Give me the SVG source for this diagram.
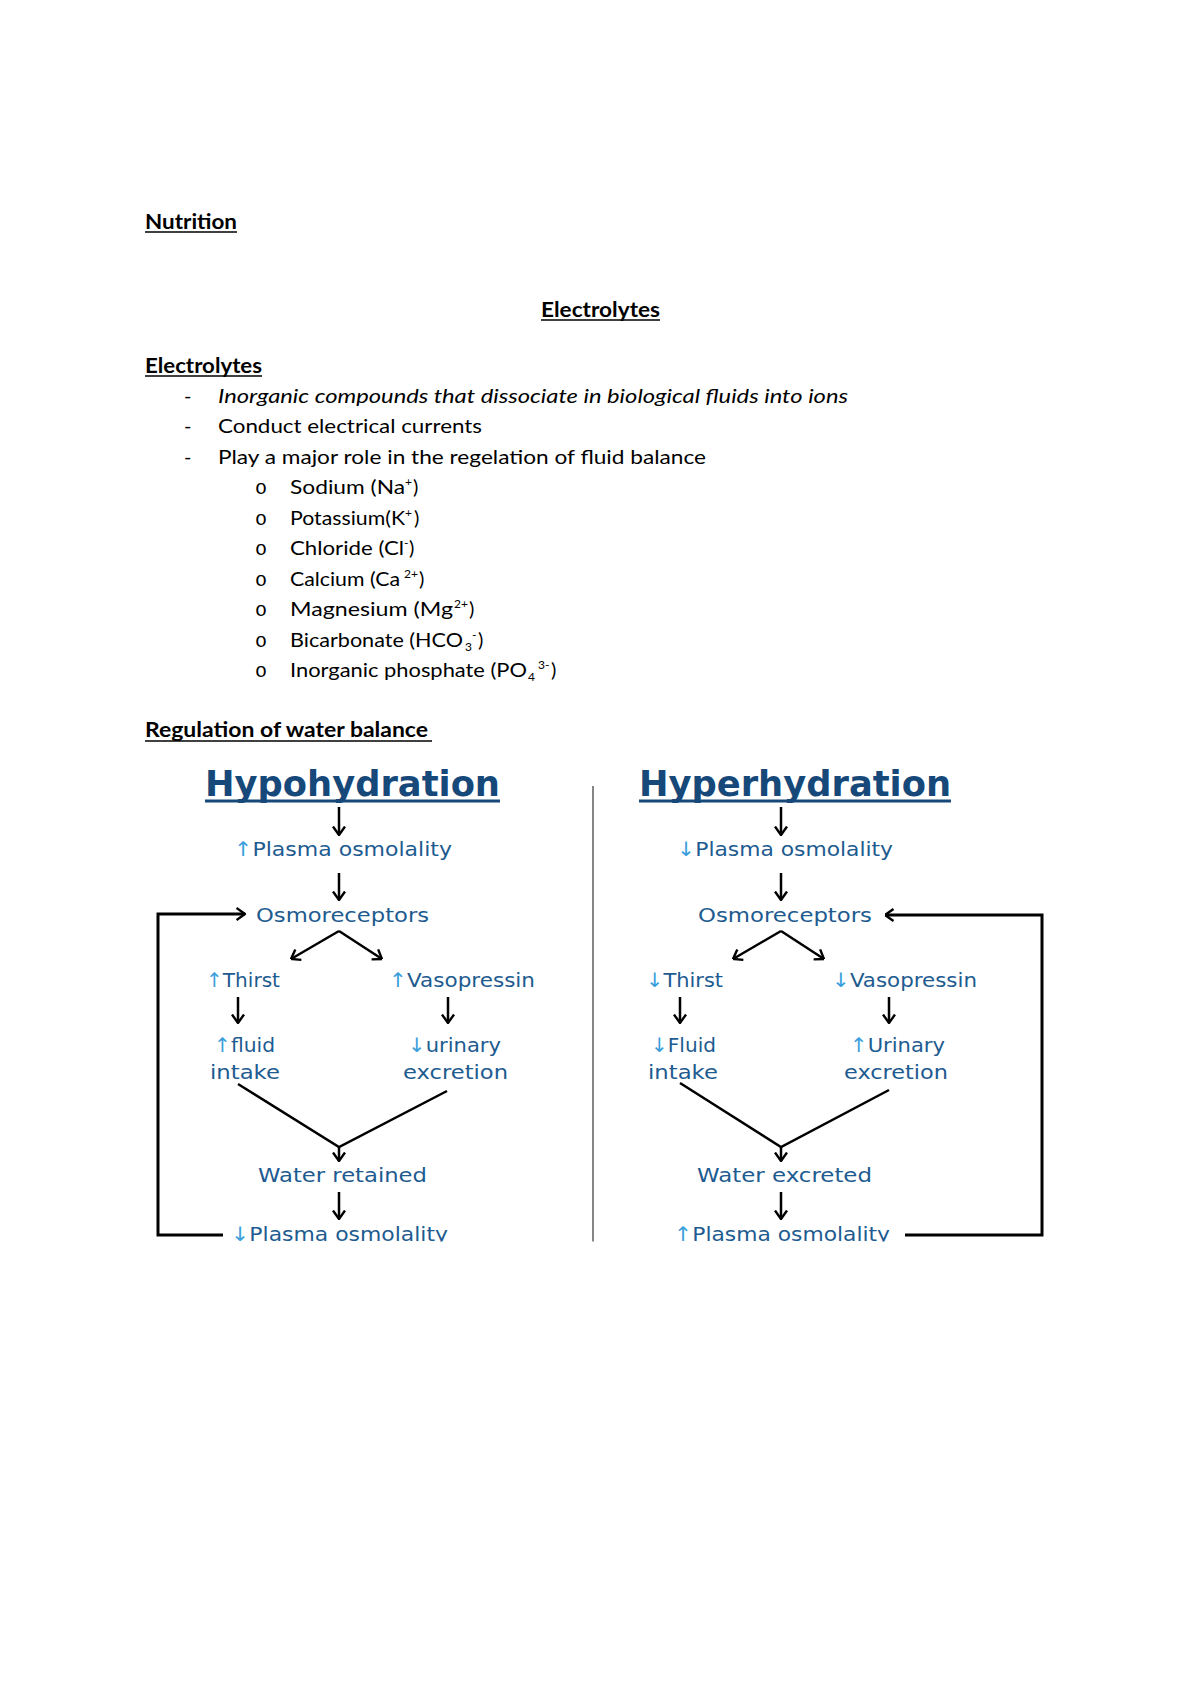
<svg xmlns="http://www.w3.org/2000/svg" width="1200" height="1698" viewBox="0 0 1200 1698">
<style>
.doc{font-family:Lato,'Liberation Sans',sans-serif;font-size:20px;fill:#000}
.b{font-weight:bold}
.i{font-style:italic}
.sup{font-family:Lato,'Liberation Sans',sans-serif;font-size:12px;fill:#000}
.bul{font-family:'Liberation Mono',monospace;font-size:20px;fill:#000}
.ul{stroke:#000;stroke-width:1.5}
.dg{font-family:'DejaVu Sans',Verdana,sans-serif;font-size:20px;fill:#1d5b90}
.hd{font-family:'DejaVu Sans',Verdana,sans-serif;font-weight:bold;font-size:36px;fill:#16497a}
.ar{fill:#3a9fdc}
.hul{stroke:#16497a;stroke-width:3}
.ln{stroke:#000;stroke-width:2.5;fill:none}
.lp{stroke:#000;stroke-width:3;fill:none}
.sep{stroke:#444;stroke-width:1.3}
</style>
<defs>
<marker id="v" viewBox="0 0 10 14" refX="9.5" refY="7" markerWidth="10" markerHeight="14" markerUnits="userSpaceOnUse" orient="auto">
<path d="M1,1 L9.5,7 L1,13" fill="none" stroke="#000" stroke-width="2.4"/>
</marker>
<clipPath id="clip"><rect x="0" y="0" width="1200" height="1241.5"/></clipPath>
</defs>
<rect width="1200" height="1698" fill="#fff"/>

<g id="document-text">
<text class="doc b" x="145" y="229" textLength="92" lengthAdjust="spacingAndGlyphs">Nutrition</text>
<line class="ul" x1="145" y1="232" x2="237" y2="232"/>
<text class="doc b" x="541" y="317" textLength="119" lengthAdjust="spacingAndGlyphs">Electrolytes</text>
<line class="ul" x1="541" y1="320" x2="660" y2="320"/>
<text class="doc b" x="145" y="373" textLength="117" lengthAdjust="spacingAndGlyphs">Electrolytes</text>
<line class="ul" x1="145" y1="376" x2="262" y2="376"/>
<text class="doc" x="184" y="403">-</text>
<text class="doc" x="184" y="433">-</text>
<text class="doc" x="184" y="464">-</text>
<text class="doc i" x="218" y="403" textLength="630" lengthAdjust="spacingAndGlyphs">Inorganic compounds that dissociate in biological fluids into ions</text>
<text class="doc" x="218" y="433" textLength="264" lengthAdjust="spacingAndGlyphs">Conduct electrical currents</text>
<text class="doc" x="218" y="464" textLength="488" lengthAdjust="spacingAndGlyphs">Play a major role in the regelation of fluid balance</text>

<g id="ions">
<text class="bul" x="255" y="494">o</text>
<text class="doc" x="290" y="494" textLength="115" lengthAdjust="spacingAndGlyphs">Sodium (Na</text>
<text class="sup" x="405" y="486">+</text>
<text class="doc" x="413" y="494">)</text>

<text class="bul" x="255" y="525">o</text>
<text class="doc" x="290" y="525" textLength="115" lengthAdjust="spacingAndGlyphs">Potassium(K</text>
<text class="sup" x="405" y="517">+</text>
<text class="doc" x="414" y="525">)</text>

<text class="bul" x="255" y="555">o</text>
<text class="doc" x="290" y="555" textLength="114" lengthAdjust="spacingAndGlyphs">Chloride (Cl</text>
<text class="sup" x="404" y="547">-</text>
<text class="doc" x="409" y="555">)</text>

<text class="bul" x="255" y="586">o</text>
<text class="doc" x="290" y="586" textLength="110" lengthAdjust="spacingAndGlyphs">Calcium (Ca</text>
<text class="sup" x="404" y="578">2+</text>
<text class="doc" x="419" y="586">)</text>

<text class="bul" x="255" y="616">o</text>
<text class="doc" x="290" y="616" textLength="163" lengthAdjust="spacingAndGlyphs">Magnesium (Mg</text>
<text class="sup" x="454" y="608">2+</text>
<text class="doc" x="469" y="616">)</text>

<text class="bul" x="255" y="647">o</text>
<text class="doc" x="290" y="647" textLength="173" lengthAdjust="spacingAndGlyphs">Bicarbonate (HCO</text>
<text class="sup" x="465" y="651">3</text>
<text class="sup" x="472" y="639">-</text>
<text class="doc" x="478" y="647">)</text>

<text class="bul" x="255" y="677">o</text>
<text class="doc" x="290" y="677" textLength="237" lengthAdjust="spacingAndGlyphs">Inorganic phosphate (PO</text>
<text class="sup" x="528" y="681">4</text>
<text class="sup" x="538" y="669">3-</text>
<text class="doc" x="551" y="677">)</text>
</g>

<text class="doc b" x="145" y="737" textLength="283" lengthAdjust="spacingAndGlyphs">Regulation of water balance</text>
<line class="ul" x1="145" y1="741" x2="432" y2="741"/>
</g>

<g id="diagram" clip-path="url(#clip)">
<line class="sep" x1="593" y1="786" x2="593" y2="1242"/>

<g id="connectors">
<line class="ln" x1="339" y1="807" x2="339" y2="835" marker-end="url(#v)"/>
<line class="ln" x1="339" y1="873" x2="339" y2="900" marker-end="url(#v)"/>
<line class="ln" x1="339" y1="931" x2="291" y2="959" marker-end="url(#v)"/>
<line class="ln" x1="339" y1="931" x2="382" y2="959" marker-end="url(#v)"/>
<line class="ln" x1="238" y1="997" x2="238" y2="1023" marker-end="url(#v)"/>
<line class="ln" x1="448" y1="997" x2="448" y2="1023" marker-end="url(#v)"/>
<polyline class="ln" points="238,1084 339,1147 447,1091"/>
<line class="ln" x1="339" y1="1147" x2="339" y2="1161" marker-end="url(#v)"/>
<line class="ln" x1="339" y1="1192" x2="339" y2="1219" marker-end="url(#v)"/>
<polyline class="lp" points="223,1235 158,1235 158,914 245,914" marker-end="url(#v)"/>
<line class="ln" x1="781" y1="807" x2="781" y2="835" marker-end="url(#v)"/>
<line class="ln" x1="781" y1="873" x2="781" y2="900" marker-end="url(#v)"/>
<line class="ln" x1="781" y1="931" x2="733" y2="959" marker-end="url(#v)"/>
<line class="ln" x1="781" y1="931" x2="824" y2="959" marker-end="url(#v)"/>
<line class="ln" x1="680" y1="997" x2="680" y2="1023" marker-end="url(#v)"/>
<line class="ln" x1="889" y1="997" x2="889" y2="1023" marker-end="url(#v)"/>
<polyline class="ln" points="680,1083 781,1147 889,1090"/>
<line class="ln" x1="781" y1="1147" x2="781" y2="1161" marker-end="url(#v)"/>
<line class="ln" x1="781" y1="1192" x2="781" y2="1219" marker-end="url(#v)"/>
<polyline class="lp" points="905,1235 1042,1235 1042,915 885,915" marker-end="url(#v)"/>
</g>

<g id="hypohydration">
<text class="hd" x="205" y="796" textLength="295" lengthAdjust="spacingAndGlyphs">Hypohydration</text>
<line class="hul" x1="205" y1="801" x2="500" y2="801"/>
</g>
<g id="l-plasma1"><text class="dg" x="234" y="856" textLength="218" lengthAdjust="spacingAndGlyphs"><tspan class="ar">↑</tspan>Plasma osmolality</text></g>
<g id="l-osmo"><text class="dg" x="256" y="922" textLength="173" lengthAdjust="spacingAndGlyphs">Osmoreceptors</text></g>
<g id="l-thirst"><text class="dg" x="206" y="987" textLength="74" lengthAdjust="spacingAndGlyphs"><tspan class="ar">↑</tspan>Thirst</text></g>
<g id="l-vaso"><text class="dg" x="389" y="987" textLength="146" lengthAdjust="spacingAndGlyphs"><tspan class="ar">↑</tspan>Vasopressin</text></g>
<g id="l-fluid">
<text class="dg" x="214" y="1052" textLength="61" lengthAdjust="spacingAndGlyphs"><tspan class="ar">↑</tspan>fluid</text>
<text class="dg" x="210" y="1079" textLength="70" lengthAdjust="spacingAndGlyphs">intake</text>
</g>
<g id="l-urinary">
<text class="dg" x="408" y="1052" textLength="93" lengthAdjust="spacingAndGlyphs"><tspan class="ar">↓</tspan>urinary</text>
<text class="dg" x="403" y="1079" textLength="105" lengthAdjust="spacingAndGlyphs">excretion</text>
</g>
<g id="l-water"><text class="dg" x="258" y="1182" textLength="169" lengthAdjust="spacingAndGlyphs">Water retained</text></g>
<g id="l-plasma2"><text class="dg" x="231" y="1241" textLength="217" lengthAdjust="spacingAndGlyphs"><tspan class="ar">↓</tspan>Plasma osmolality</text></g>

<g id="hyperhydration">
<text class="hd" x="639" y="796" textLength="312" lengthAdjust="spacingAndGlyphs">Hyperhydration</text>
<line class="hul" x1="639" y1="801" x2="951" y2="801"/>
</g>
<g id="r-plasma1"><text class="dg" x="677" y="856" textLength="216" lengthAdjust="spacingAndGlyphs"><tspan class="ar">↓</tspan>Plasma osmolality</text></g>
<g id="r-osmo"><text class="dg" x="698" y="922" textLength="174" lengthAdjust="spacingAndGlyphs">Osmoreceptors</text></g>
<g id="r-thirst"><text class="dg" x="646" y="987" textLength="77" lengthAdjust="spacingAndGlyphs"><tspan class="ar">↓</tspan>Thirst</text></g>
<g id="r-vaso"><text class="dg" x="832" y="987" textLength="145" lengthAdjust="spacingAndGlyphs"><tspan class="ar">↓</tspan>Vasopressin</text></g>
<g id="r-fluid">
<text class="dg" x="651" y="1052" textLength="65" lengthAdjust="spacingAndGlyphs"><tspan class="ar">↓</tspan>Fluid</text>
<text class="dg" x="648" y="1079" textLength="70" lengthAdjust="spacingAndGlyphs">intake</text>
</g>
<g id="r-urinary">
<text class="dg" x="850" y="1052" textLength="95" lengthAdjust="spacingAndGlyphs"><tspan class="ar">↑</tspan>Urinary</text>
<text class="dg" x="844" y="1079" textLength="104" lengthAdjust="spacingAndGlyphs">excretion</text>
</g>
<g id="r-water"><text class="dg" x="697" y="1182" textLength="175" lengthAdjust="spacingAndGlyphs">Water excreted</text></g>
<g id="r-plasma2"><text class="dg" x="674" y="1241" textLength="216" lengthAdjust="spacingAndGlyphs"><tspan class="ar">↑</tspan>Plasma osmolality</text></g>
</g>
</svg>
